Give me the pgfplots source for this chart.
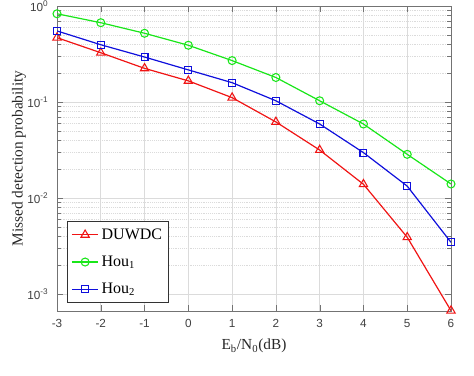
\documentclass[border=0pt]{standalone}
\usepackage{fontspec}
\setmainfont{Liberation Serif}
\setsansfont{Liberation Sans}
\usepackage{pgfplots}
\pgfplotsset{compat=1.18}
\definecolor{mred}{RGB}{240,20,20}
\definecolor{mgreen}{RGB}{25,230,25}
\definecolor{mblue}{RGB}{15,15,220}
\begin{document}
\begin{tikzpicture}
\begin{axis}[
  scale only axis, width=295.5pt, height=228.75pt,
  ymode=log, xmin=-3, xmax=6, ymin=6.65e-4, ymax=1,
  xtick={-3,-2,-1,0,1,2,3,4,5,6},
  xticklabels={-3,-2,-1,0,1,2,3,4,5,6},
  ytick={1e-3,1e-2,1e-1,1},
  yticklabels={10\textsuperscript{-3},10\textsuperscript{-2},10\textsuperscript{-1},10\textsuperscript{0}},
  ticklabel style={font=\sffamily\fontsize{8.8}{10}\selectfont, text=black!75},
  xticklabel style={yshift=-3pt},
  yticklabel style={xshift=-3pt},
  xmajorgrids, ymajorgrids, yminorgrids,
  major grid style={draw=black!14, line width=0.5pt},
  minor grid style={draw=black!14, densely dotted, line width=0.5pt},
  axis line style={draw=black!55, line width=0.6pt},
  tick style={draw=black!55},
  xlabel={E\textsubscript{b}/N\textsubscript{0}(dB)},
  ylabel={Missed detection probability},
  label style={font=\fontsize{11.5}{13}\selectfont, text=black!85},
  xlabel style={at={(axis description cs:0.5,-0.115)}, anchor=center},
  ylabel style={at={(axis description cs:-0.0965,0.5)}, anchor=center},
  legend style={at={(axis description cs:0.025,0.028)}, anchor=south west,
    font=\fontsize{12}{13}\selectfont, draw=black!80, line width=0.6pt,
    row sep=7pt, inner sep=3pt},
  legend cell align=left,
  legend image code/.code={\draw[#1] (0cm,0cm) -- (0.35cm,0cm) (0.35cm,0cm) -- (0.7cm,0cm); \path[#1,only marks] plot coordinates {(0.35cm,0cm)};},
  every axis plot/.append style={line width=0.9pt, mark options={solid, line width=0.8pt}},
]
\addplot[mred, mark=triangle, mark size=3.6pt] coordinates {
(-3,0.468) (-2,0.326) (-1,0.224) (0,0.166) (1,0.111) (2,0.062) (3,0.0316) (4,0.0139) (5,0.0039) (6,0.00067)};
\addlegendentry{DUWDC}
\addplot[mgreen, mark=o, mark size=3pt] coordinates {
(-3,0.83) (-2,0.67) (-1,0.52) (0,0.39) (1,0.27) (2,0.18) (3,0.103) (4,0.059) (5,0.0285) (6,0.014)};
\addlegendentry{Hou\textsubscript{1}}
\addplot[mblue, mark=square, mark size=2.6pt] coordinates {
(-3,0.55) (-2,0.395) (-1,0.294) (0,0.216) (1,0.159) (2,0.103) (3,0.059) (4,0.0297) (5,0.0133) (6,0.00345)};
\addlegendentry{Hou\textsubscript{2}}
\end{axis}
\pgfresetboundingbox
\path[use as bounding box] ([xshift=-42.75pt,yshift=-48pt]current axis.south west) rectangle ([xshift=17.25pt,yshift=4.5pt]current axis.north east);
\end{tikzpicture}
\end{document}
